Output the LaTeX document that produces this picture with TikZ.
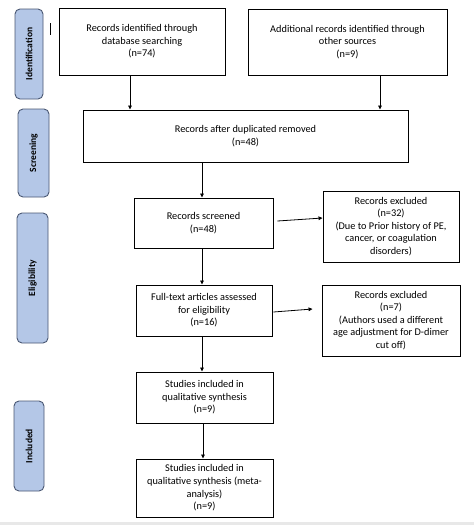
\documentclass[tikz,border=0pt]{standalone}
\usepackage{fontspec}
\setmainfont{Carlito}
\usetikzlibrary{arrows.meta,calc}
\definecolor{sidefill}{HTML}{B4C7E7}
\definecolor{sideedge}{HTML}{4A5873}
\tikzset{
  box/.style={draw=black, line width=0.9pt, fill=white, align=center, inner sep=2pt,
    font=\fontsize{10.3}{12.6}\selectfont},
  side/.style={draw=sideedge, line width=0.9pt, fill=sidefill, rounded corners=5pt,
    font=\bfseries\fontsize{9.5}{11}\selectfont, inner sep=0pt},
  arr/.style={line width=0.8pt, -{Triangle[length=4pt,width=3.6pt]}},
}
\begin{document}
\begin{tikzpicture}[x=1pt,y=-1pt]
\useasboundingbox (0,0) rectangle (474,525);
\fill[white] (0,0) rectangle (474,525);
\fill[black!9] (0,522) rectangle (474,525);
% side labels
\node[side, minimum width=28, minimum height=90] (sid) at (29,54) {};
\node[rotate=90, font=\bfseries\fontsize{9.5}{11}\selectfont] at (sid.center) {Identification};
\node[side, minimum width=31, minimum height=88] (sscr) at (33.5,153) {};
\node[rotate=90, font=\bfseries\fontsize{9.5}{11}\selectfont] at (sscr.center) {Screening};
\node[side, minimum width=31, minimum height=130] (selig) at (32.5,278) {};
\node[rotate=90, font=\bfseries\fontsize{9.5}{11}\selectfont] at (selig.center) {Eligibility};
\node[side, minimum width=30, minimum height=90] (sinc) at (29,446) {};
\node[rotate=90, font=\bfseries\fontsize{9.5}{11}\selectfont] at (sinc.center) {Included};
\coordinate (bt) at (50,23);
\coordinate (bb) at (50,35);
\draw[line width=0.9pt] (bt) -- (bb);
% boxes
\node[box, minimum width=166, minimum height=67] (b1) at (142,41.5)
  {Records identified through\\database searching\\(n=74)};
\node[box, minimum width=199, minimum height=66] (b2) at (347.5,42)
  {Additional records identified through\\other sources\\(n=9)};
\node[box, minimum width=325, minimum height=52] (b3) at (245.5,136)
  {Records after duplicated removed\\(n=48)};
\node[box, minimum width=139, minimum height=50] (b4) at (203.5,223)
  {Records screened\\(n=48)};
\node[box, minimum width=136, minimum height=71] (e1) at (391,226.5)
  {Records excluded\\(n=32)\\(Due to Prior history of PE,\\cancer, or coagulation\\disorders)};
\node[box, minimum width=136, minimum height=51] (b5) at (204,310.5)
  {Full-text articles assessed\\for eligibility\\(n=16)};
\node[box, minimum width=138, minimum height=71] (e2) at (391,320.5)
  {Records excluded\\(n=7)\\(Authors used a different\\age adjustment for D-dimer\\cut off)};
\node[box, minimum width=137, minimum height=51] (b6) at (204.5,397.5)
  {Studies included in\\qualitative synthesis\\(n=9)};
\node[box, minimum width=137, minimum height=58] (b7) at (204.5,488)
  {Studies included in\\qualitative synthesis (meta-\\analysis)\\(n=9)};
% arrows
\draw[arr] (b1.south -| 130,0) -- (b3.north -| 130,0);
\draw[arr] (b2.south -| 380,0) -- (b3.north -| 380,0);
\draw[arr] (b3.south -| 202,0) -- (b4.north -| 202,0);
\draw[arr] ($(b4.east)+(4,-2)$) -- (e1.west |- 0,218);
\draw[arr] (b4.south -| 202,0) -- (b5.north -| 202,0);
\draw[arr] ($(b5.east)+(1,1.5)$) -- ($(e2.west |- 0,309)+(-9,0)$);
\draw[arr] (b5.south -| 202,0) -- (b6.north -| 202,0);
\draw[arr] (b6.south -| 203,0) -- (b7.north -| 203,0);
\end{tikzpicture}
\end{document}
